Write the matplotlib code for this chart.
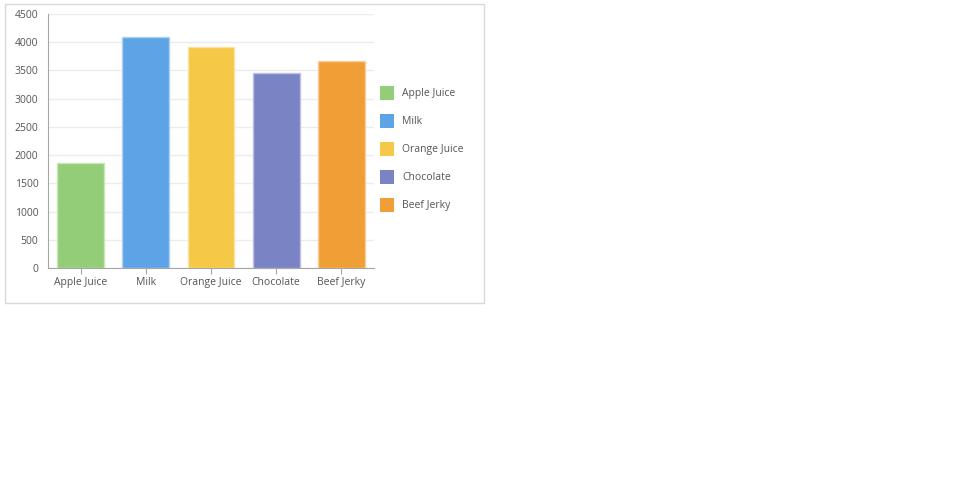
import matplotlib.pyplot as plt
from matplotlib.patches import Rectangle

# Chart data
categories = ['Apple Juice', 'Milk', 'Orange Juice', 'Chocolate', 'Beef Jerky']
values = [1865, 4100, 3910, 3450, 3675]
colors = ['#93cd77', '#5ca4e5', '#f5c847', '#7a84c4', '#f09e36']
edge_colors = ['#c8e6b8', '#aed1f2', '#fae3a3', '#bcc1e2', '#f8cf9b']
y_ticks = [0, 500, 1000, 1500, 2000, 2500, 3000, 3500, 4000, 4500]

plt.rcParams['font.family'] = ['Open Sans', 'DejaVu Sans']
text_color = '#555555'

fig = plt.figure(figsize=(9.62, 4.95), dpi=100)

# Outer frame around the chart area
fig.patches.append(Rectangle((5 / 962, 1 - 303 / 495), 479 / 962, 299 / 495,
                             transform=fig.transFigure, fill=False,
                             edgecolor='#d9d9d9', linewidth=1))

ax = fig.add_axes([48 / 962, 1 - 268 / 495, 326 / 962, 254 / 495])
x = range(len(categories))
ax.bar(x, values, width=0.72, color=colors, edgecolor=edge_colors,
       linewidth=1, zorder=3)

ax.set_xlim(-0.5, len(categories) - 0.5)
ax.set_ylim(0, 4500)
ax.set_yticks(y_ticks)
ax.set_xticks(list(x))
ax.set_xticklabels(categories)
ax.grid(axis='y', color='#ececec', linewidth=1, zorder=0)

for side in ['top', 'right']:
    ax.spines[side].set_visible(False)
for side in ['left', 'bottom']:
    ax.spines[side].set_color('#a6a6a6')
ax.tick_params(axis='x', length=4, color='#a6a6a6', labelsize=7.5,
               labelcolor=text_color, pad=2.5)
ax.tick_params(axis='y', length=0, labelsize=7.5, labelcolor=text_color, pad=7)

# Legend drawn by hand to match the layout
for i, (name, c) in enumerate(zip(categories, colors)):
    top = 86 + i * 28
    fig.patches.append(Rectangle((380 / 962, 1 - (top + 14) / 495), 14 / 962, 14 / 495,
                                 transform=fig.transFigure, facecolor=c,
                                 edgecolor='none'))
    fig.text(402 / 962, 1 - (top + 7.5) / 495, name, fontsize=7.5,
             color=text_color, va='center', ha='left')

fig.savefig('out.png', dpi=100)
